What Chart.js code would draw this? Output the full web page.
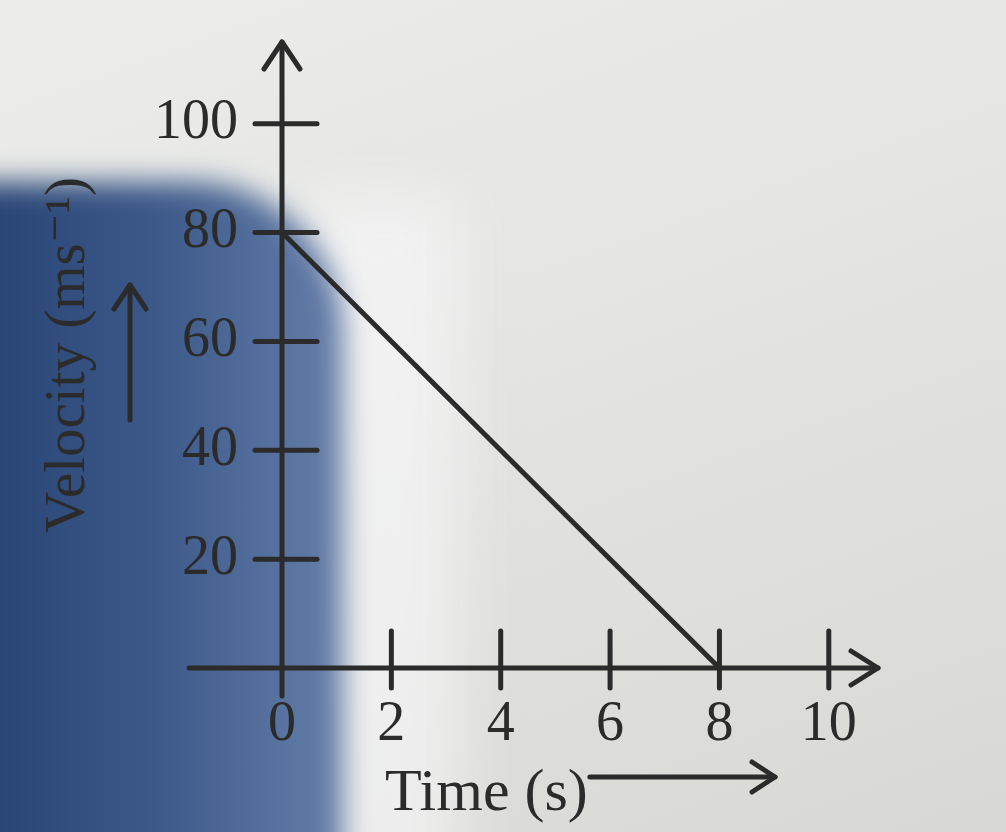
<!DOCTYPE html>
<html><head><meta charset="utf-8">
<script src="https://cdn.jsdelivr.net/npm/chart.js@4.4.1/dist/chart.umd.min.js"></script>
<style>
html,body{margin:0;padding:0;width:1006px;height:832px;overflow:hidden;}
body{background:linear-gradient(160deg,#ecedeb 0%,#e4e5e2 45%,#d8d9d5 100%);position:relative;}
#glow{position:absolute;left:300px;top:200px;width:160px;height:700px;background:rgba(248,249,250,0.6);filter:blur(30px);}
#shadow{position:absolute;left:-170px;top:182px;width:512px;height:780px;border-radius:0 150px 0 0;
background:linear-gradient(90deg,#1c3766 0%,#2a4778 35%,#3d5a8a 65%,#5e78a4 93%);filter:blur(14px);}
#wrap{position:absolute;left:0;top:0;width:1006px;height:832px;}
</style></head>
<body><div id="glow"></div><div id="shadow"></div><div id="wrap"><canvas id="c" width="1006" height="832"></canvas></div>
<script>
const timeValues=[0,8];
const velocityValues=[80,0];
const xTickValues=[0,2,4,6,8,10];
const yTickValues=[20,40,60,80,100];
const xAxisTitle='Time (s)';
const yAxisTitle='Velocity (ms\u207B\u00B9)';

const ink='#2b2b2b';
const serif='"Liberation Serif","DejaVu Serif",serif';

function seg(ctx,pts){ctx.beginPath();ctx.moveTo(pts[0][0],pts[0][1]);for(let i=1;i<pts.length;i++)ctx.lineTo(pts[i][0],pts[i][1]);ctx.stroke();}

const axesPlugin={
  id:'axesPlugin',
  afterDraw(chart){
    const ctx=chart.ctx, xs=chart.scales.x, ys=chart.scales.y;
    const x0=xs.getPixelForValue(0), y0=ys.getPixelForValue(0);
    const top=chart.chartArea.top, right=chart.chartArea.right;
    ctx.save();
    ctx.strokeStyle=ink; ctx.fillStyle=ink; ctx.lineWidth=5; ctx.lineCap='round'; ctx.lineJoin='round';
    // y axis + arrow
    seg(ctx,[[x0,y0+28],[x0,top]]);
    seg(ctx,[[x0-18,top+27],[x0,top],[x0+18,top+27]]);
    // x axis + arrow
    seg(ctx,[[xs.getPixelForValue(-1.7),y0],[right,y0]]);
    seg(ctx,[[right-27,y0-17],[right,y0],[right-27,y0+17]]);
    // ticks
    yTickValues.forEach(v=>{const y=ys.getPixelForValue(v);seg(ctx,[[x0-27,y],[x0+35,y]]);});
    xTickValues.filter(v=>v>0).forEach(v=>{const x=xs.getPixelForValue(v);seg(ctx,[[x,y0-37],[x,y0+20]]);});
    // y title arrow
    seg(ctx,[[130,420],[130,285]]);
    seg(ctx,[[114,309],[130,285],[146,309]]);
    // x title with arrow
    ctx.font='60px '+serif; ctx.textAlign='left'; ctx.textBaseline='alphabetic';
    ctx.fillText(xAxisTitle,385,810);
    const w=ctx.measureText(xAxisTitle).width;
    seg(ctx,[[385+w+2,777],[775,777]]);
    seg(ctx,[[752,762],[775,777],[752,792]]);
    ctx.restore();
  }
};

new Chart(document.getElementById('c'),{
  type:'line',
  data:{datasets:[{
    data:timeValues.map((t,i)=>({x:t,y:velocityValues[i]})),
    borderColor:ink,borderWidth:5,pointRadius:0,tension:0,fill:false
  }]},
  options:{
    responsive:false,animation:false,
    layout:{padding:{top:42,right:128,left:0,bottom:0}},
    plugins:{legend:{display:false},tooltip:{enabled:false}},
    scales:{
      x:{type:'linear',min:0,max:10.9,
        afterBuildTicks:s=>{s.ticks=xTickValues.map(v=>({value:v}));},
        afterFit:s=>{s.height=164;s.paddingLeft=0;s.paddingRight=0;},
        grid:{display:false,drawTicks:false},border:{display:false},
        ticks:{font:{family:serif,size:56},color:ink,padding:24,maxRotation:0,autoSkip:false}
      },
      y:{type:'linear',min:0,max:115,
        afterBuildTicks:s=>{s.ticks=yTickValues.map(v=>({value:v}));},
        afterFit:s=>{s.width=282;s.paddingTop=0;s.paddingBottom=0;},
        grid:{display:false,drawTicks:false},border:{display:false},
        ticks:{font:{family:serif,size:56},color:ink,padding:44,autoSkip:false},
        title:{display:true,text:yAxisTitle,font:{family:serif,size:57},color:ink,padding:{top:35,bottom:0}}
      }
    }
  },
  plugins:[axesPlugin]
});
</script>
</body></html>
